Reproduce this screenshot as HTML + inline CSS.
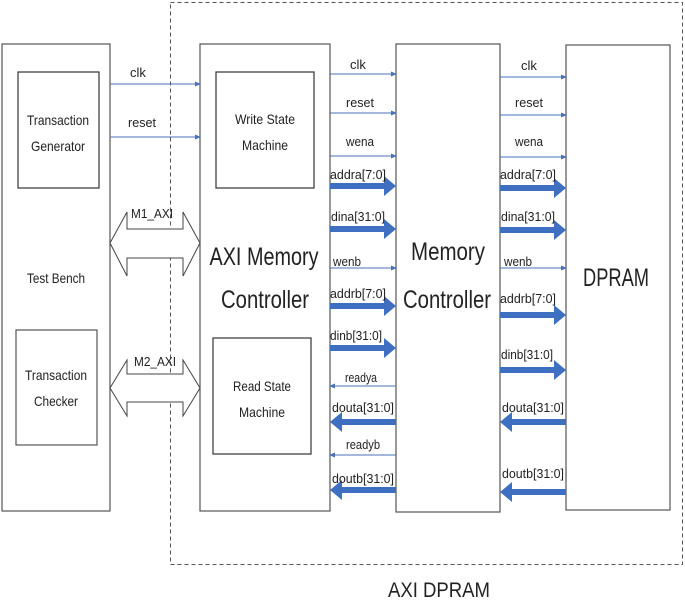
<!DOCTYPE html><html><head><style>body{margin:0;background:#fff}svg{display:block}text{font-family:"Liberation Sans",sans-serif;fill:#222}</style></head><body>
<svg width="685" height="604" viewBox="0 0 685 604" xmlns="http://www.w3.org/2000/svg">
<defs>
<marker id="a" markerWidth="6" markerHeight="6" refX="5" refY="3" orient="auto"><path d="M0,0.5 L6,3 L0,5.5z" fill="#4a72b8"/></marker>
</defs>
<rect x="170.5" y="2.5" width="512" height="562" fill="none" stroke="#555" stroke-dasharray="4,3"/>
<g fill="#fff" stroke="#555" stroke-width="1.2">
<rect x="2" y="44" width="108" height="467"/>
<rect x="200" y="44" width="130" height="467"/>
<rect x="396" y="44" width="104" height="468"/>
<rect x="566" y="45" width="104" height="465"/>
<rect x="18" y="72" width="81" height="116" stroke="#333"/>
<rect x="16" y="330" width="81" height="115"/>
<rect x="216" y="72" width="98" height="116" stroke="#333"/>
<rect x="213" y="338" width="98" height="116" stroke="#333"/>
</g>
<g font-size="14" text-anchor="middle" lengthAdjust="spacingAndGlyphs">
<text x="58" y="125" textLength="62" lengthAdjust="spacingAndGlyphs">Transaction</text><text x="58" y="151" textLength="54" lengthAdjust="spacingAndGlyphs">Generator</text>
<text x="56" y="380" textLength="62" lengthAdjust="spacingAndGlyphs">Transaction</text><text x="56" y="406" textLength="44" lengthAdjust="spacingAndGlyphs">Checker</text>
<text x="56" y="283" textLength="58" lengthAdjust="spacingAndGlyphs">Test Bench</text>
<text x="265" y="124" textLength="60" lengthAdjust="spacingAndGlyphs">Write State</text><text x="265" y="150" textLength="46" lengthAdjust="spacingAndGlyphs">Machine</text>
<text x="262" y="391" textLength="58" lengthAdjust="spacingAndGlyphs">Read State</text><text x="262" y="417" textLength="46" lengthAdjust="spacingAndGlyphs">Machine</text>
<text x="264" y="265" font-size="25" textLength="109" lengthAdjust="spacingAndGlyphs">AXI Memory</text><text x="265" y="308" font-size="25" textLength="88" lengthAdjust="spacingAndGlyphs">Controller</text>
<text x="448" y="260" font-size="25" textLength="74" lengthAdjust="spacingAndGlyphs">Memory</text><text x="447" y="308" font-size="25" textLength="88" lengthAdjust="spacingAndGlyphs">Controller</text>
<text x="616" y="286" font-size="25" textLength="66" lengthAdjust="spacingAndGlyphs">DPRAM</text>
<text x="439" y="597" font-size="21" textLength="102" lengthAdjust="spacingAndGlyphs">AXI DPRAM</text>
</g>
<g stroke="#4a72b8" stroke-width="1" marker-end="url(#a)">
<line x1="110" y1="84" x2="200" y2="84"/><line x1="110" y1="137" x2="200" y2="137"/>
<line x1="330" y1="74" x2="396" y2="74"/><line x1="330" y1="113" x2="396" y2="113"/><line x1="330" y1="156" x2="396" y2="156"/><line x1="330" y1="268" x2="396" y2="268"/>
<line x1="396" y1="386" x2="330" y2="386"/><line x1="396" y1="455" x2="330" y2="455"/>
<line x1="500" y1="77" x2="566" y2="77"/><line x1="500" y1="115" x2="566" y2="115"/><line x1="500" y1="157" x2="566" y2="157"/><line x1="500" y1="268" x2="566" y2="268"/>
</g>
<g fill="#3f6fc0">
<path d="M330,183h54v-7l12,10l-12,10v-7h-54z"/>
<path d="M330,226h54v-7l12,10l-12,10v-7h-54z"/>
<path d="M330,303h54v-7l12,10l-12,10v-7h-54z"/>
<path d="M330,345h54v-7l12,10l-12,10v-7h-54z"/>
<path d="M396,419h-54v-7l-12,10l12,10v-7h54z"/>
<path d="M396,487h-54v-7l-12,10l12,10v-7h54z"/>
<path d="M500,185h54v-7l12,10l-12,10v-7h-54z"/>
<path d="M500,227h54v-7l12,10l-12,10v-7h-54z"/>
<path d="M500,312h54v-7l12,10l-12,10v-7h-54z"/>
<path d="M500,367h54v-7l12,10l-12,10v-7h-54z"/>
<path d="M566,419h-54v-7l-12,10l12,10v-7h54z"/>
<path d="M566,489h-54v-7l-12,10l12,10v-7h54z"/>
</g>
<g fill="#fff" stroke="#444" stroke-width="1">
<path d="M110,243 L127,212 V229 H183 V212 L200,243 L183,276 V258 H127 V276z"/>
<path d="M110,388 L127,360 V374 H183 V360 L200,388 L183,416 V402 H127 V416z"/>
</g>
<g font-size="13" text-anchor="middle">
<text x="138" y="77">clk</text><text x="142" y="127" textLength="28" lengthAdjust="spacingAndGlyphs">reset</text>
<text x="152" y="218" textLength="42" lengthAdjust="spacingAndGlyphs">M1_AXI</text><text x="155" y="366" textLength="42" lengthAdjust="spacingAndGlyphs">M2_AXI</text>
<text x="358" y="69">clk</text><text x="360" y="107" textLength="28" lengthAdjust="spacingAndGlyphs">reset</text><text x="360" y="146" textLength="28" lengthAdjust="spacingAndGlyphs">wena</text>
<text x="358" y="179" textLength="56" lengthAdjust="spacingAndGlyphs">addra[7:0]</text><text x="358" y="221" textLength="54" lengthAdjust="spacingAndGlyphs">dina[31:0]</text>
<text x="347" y="266" textLength="28" lengthAdjust="spacingAndGlyphs">wenb</text><text x="358" y="298" textLength="56" lengthAdjust="spacingAndGlyphs">addrb[7:0]</text><text x="356" y="340" textLength="52" lengthAdjust="spacingAndGlyphs">dinb[31:0]</text>
<text x="361" y="382" textLength="32" lengthAdjust="spacingAndGlyphs">readya</text><text x="363" y="412" textLength="62" lengthAdjust="spacingAndGlyphs">douta[31:0]</text><text x="363" y="449" textLength="34" lengthAdjust="spacingAndGlyphs">readyb</text><text x="363" y="483" textLength="62" lengthAdjust="spacingAndGlyphs">doutb[31:0]</text>
<text x="529" y="70">clk</text><text x="529" y="107" textLength="28" lengthAdjust="spacingAndGlyphs">reset</text><text x="529" y="146" textLength="28" lengthAdjust="spacingAndGlyphs">wena</text>
<text x="528" y="179" textLength="56" lengthAdjust="spacingAndGlyphs">addra[7:0]</text><text x="528" y="221" textLength="54" lengthAdjust="spacingAndGlyphs">dina[31:0]</text>
<text x="518" y="266" textLength="28" lengthAdjust="spacingAndGlyphs">wenb</text><text x="528" y="303" textLength="56" lengthAdjust="spacingAndGlyphs">addrb[7:0]</text><text x="527" y="359" textLength="52" lengthAdjust="spacingAndGlyphs">dinb[31:0]</text>
<text x="533" y="412" textLength="62" lengthAdjust="spacingAndGlyphs">douta[31:0]</text><text x="533" y="478" textLength="62" lengthAdjust="spacingAndGlyphs">doutb[31:0]</text>
</g>
</svg>
</body></html>
